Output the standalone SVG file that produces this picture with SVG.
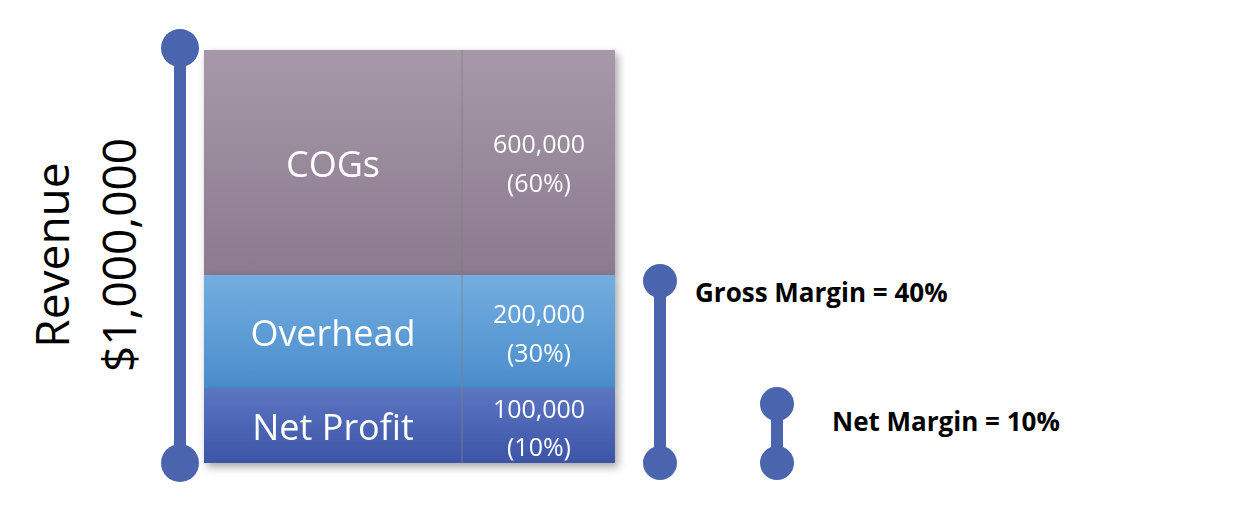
<svg xmlns="http://www.w3.org/2000/svg" width="1246" height="514" viewBox="0 0 1246 514">
<defs>
<linearGradient id="gc" x1="0" y1="0" x2="0" y2="1"><stop offset="0" stop-color="#a698a9"/><stop offset="1" stop-color="#8c7a8e"/></linearGradient>
<linearGradient id="go" x1="0" y1="0" x2="0" y2="1"><stop offset="0" stop-color="#74aee0"/><stop offset="1" stop-color="#4a8ccb"/></linearGradient>
<linearGradient id="gn" x1="0" y1="0" x2="0" y2="1"><stop offset="0" stop-color="#5b76c2"/><stop offset="1" stop-color="#3d54a7"/></linearGradient>
<filter id="sh" x="-10%" y="-10%" width="130%" height="130%"><feDropShadow dx="3" dy="4" stdDeviation="4" flood-opacity="0.35"/></filter>
</defs>
<style>
.t{font-family:"Open Sans","Noto Sans",sans-serif;fill:#fff;text-anchor:middle}
.big{font-size:36px}.val{font-size:25px}
.lbl{font-family:"Open Sans","Noto Sans",sans-serif;font-weight:bold;font-size:26px;fill:#000}
.bar{stroke:#4a64ad;stroke-width:12}
.dot{fill:#4a64ad}
</style>
<rect width="1246" height="514" fill="#fff"/>
<g id="cogs" filter="url(#sh)"><rect x="204" y="50" width="258" height="225" fill="url(#gc)"/><rect x="462" y="50" width="153" height="225" fill="url(#gc)"/>
<text class="t big" x="333" y="177">COGs</text><text class="t val" x="539" y="153">600,000</text><text class="t val" x="539" y="192">(60%)</text></g>
<g id="overhead" filter="url(#sh)"><rect x="204" y="275" width="258" height="113" fill="url(#go)"/><rect x="462" y="275" width="153" height="113" fill="url(#go)"/>
<text class="t big" x="333" y="346">Overhead</text><text class="t val" x="539" y="323">200,000</text><text class="t val" x="539" y="362">(30%)</text></g>
<g id="netprofit" filter="url(#sh)"><rect x="204" y="388" width="258" height="75" fill="url(#gn)"/><rect x="462" y="388" width="153" height="75" fill="url(#gn)"/>
<text class="t big" x="333" y="440">Net Profit</text><text class="t val" x="539" y="418">100,000</text><text class="t val" x="539" y="456">(10%)</text></g>
<g id="dividers" stroke="#7f7f7f" stroke-opacity="0.4" stroke-width="2"><line x1="462" y1="50" x2="462" y2="463"/></g>
<g id="connectors">
<line class="bar" x1="180" y1="48" x2="180" y2="463"/><circle class="dot" cx="180" cy="48" r="19"/><circle class="dot" cx="180" cy="463" r="19"/>
<line class="bar" x1="660" y1="281" x2="660" y2="463"/><circle class="dot" cx="660" cy="281" r="17"/><circle class="dot" cx="660" cy="463" r="17"/>
<line class="bar" x1="777" y1="404" x2="777" y2="463"/><circle class="dot" cx="777" cy="404" r="17"/><circle class="dot" cx="777" cy="463" r="17"/>
</g>
<g id="revenue" font-family="'Open Sans','Noto Sans',sans-serif" font-size="46" fill="#000" text-anchor="middle">
<text transform="translate(69,255) rotate(-90)">Revenue</text>
<text transform="translate(136,255) rotate(-90)">$1,000,000</text>
</g>
<text class="lbl" x="695" y="302">Gross Margin = 40%</text>
<text class="lbl" x="832" y="431">Net Margin = 10%</text>
</svg>
